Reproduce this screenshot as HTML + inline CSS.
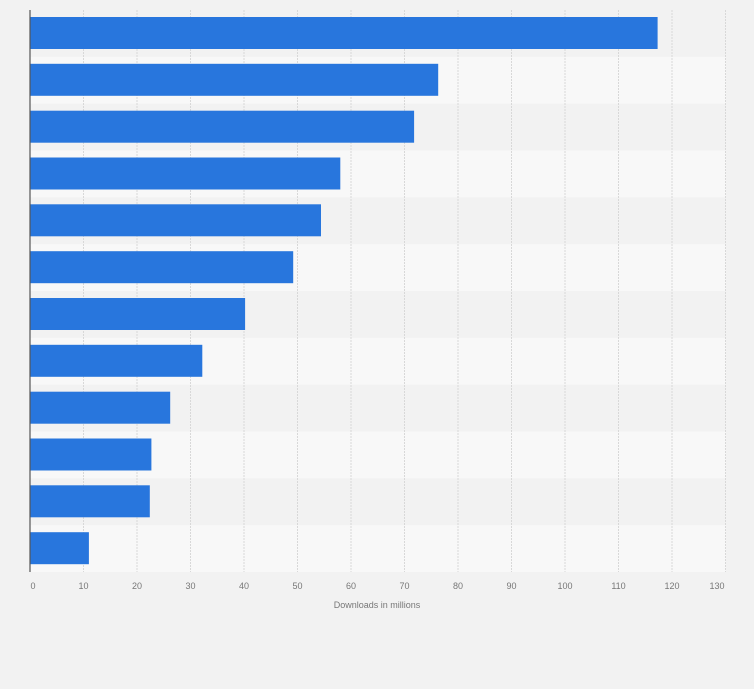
<!DOCTYPE html><html><head><style>body{margin:0;background:#f2f2f2}</style></head><body>
<svg width="754" height="689" xmlns="http://www.w3.org/2000/svg" font-family="Liberation Sans, sans-serif" style="display:block">
<rect width="754" height="689" fill="#f2f2f2"/>
<g fill="#f8f8f8">
<rect x="30" y="56.8" width="696" height="46.8"/>
<rect x="30" y="150.5" width="696" height="46.8"/>
<rect x="30" y="244.2" width="696" height="46.8"/>
<rect x="30" y="337.8" width="696" height="46.8"/>
<rect x="30" y="431.5" width="696" height="46.8"/>
<rect x="30" y="525.2" width="696" height="46.8"/>
</g>
<g stroke="#d8d8d8" stroke-dasharray="2,1">
<line x1="83.5" y1="10" x2="83.5" y2="572"/><line x1="137" y1="10" x2="137" y2="572"/>
<line x1="190.5" y1="10" x2="190.5" y2="572"/><line x1="244" y1="10" x2="244" y2="572"/>
<line x1="297.5" y1="10" x2="297.5" y2="572"/><line x1="351" y1="10" x2="351" y2="572"/>
<line x1="404.5" y1="10" x2="404.5" y2="572"/><line x1="458" y1="10" x2="458" y2="572"/>
<line x1="511.5" y1="10" x2="511.5" y2="572"/><line x1="565" y1="10" x2="565" y2="572"/>
<line x1="618.5" y1="10" x2="618.5" y2="572"/><line x1="672" y1="10" x2="672" y2="572"/>
<line x1="725.5" y1="10" x2="725.5" y2="572"/>
</g>
<g fill="#2876dd">
<rect x="30" y="17" width="627.6" height="32"/>
<rect x="30" y="63.8" width="408.2" height="32"/>
<rect x="30" y="110.7" width="384.1" height="32"/>
<rect x="30" y="157.5" width="310.3" height="32"/>
<rect x="30" y="204.3" width="291" height="32"/>
<rect x="30" y="251.2" width="263.2" height="32"/>
<rect x="30" y="298" width="215.1" height="32"/>
<rect x="30" y="344.8" width="172.3" height="32"/>
<rect x="30" y="391.7" width="140.2" height="32"/>
<rect x="30" y="438.5" width="121.4" height="32"/>
<rect x="30" y="485.3" width="119.8" height="32"/>
<rect x="30" y="532.2" width="58.9" height="32"/>
</g>
<line x1="30" y1="10" x2="30" y2="572" stroke="#555" stroke-width="1.2"/>
<g font-size="9" fill="#777" text-anchor="middle">
<text x="33" y="589">0</text><text x="83.5" y="589">10</text><text x="137" y="589">20</text>
<text x="190.5" y="589">30</text><text x="244" y="589">40</text><text x="297.5" y="589">50</text>
<text x="351" y="589">60</text><text x="404.5" y="589">70</text><text x="458" y="589">80</text>
<text x="511.5" y="589">90</text><text x="565" y="589">100</text><text x="618.5" y="589">110</text>
<text x="672" y="589">120</text><text x="717" y="589">130</text>
<text x="377" y="608">Downloads in millions</text>
</g>
</svg></body></html>
